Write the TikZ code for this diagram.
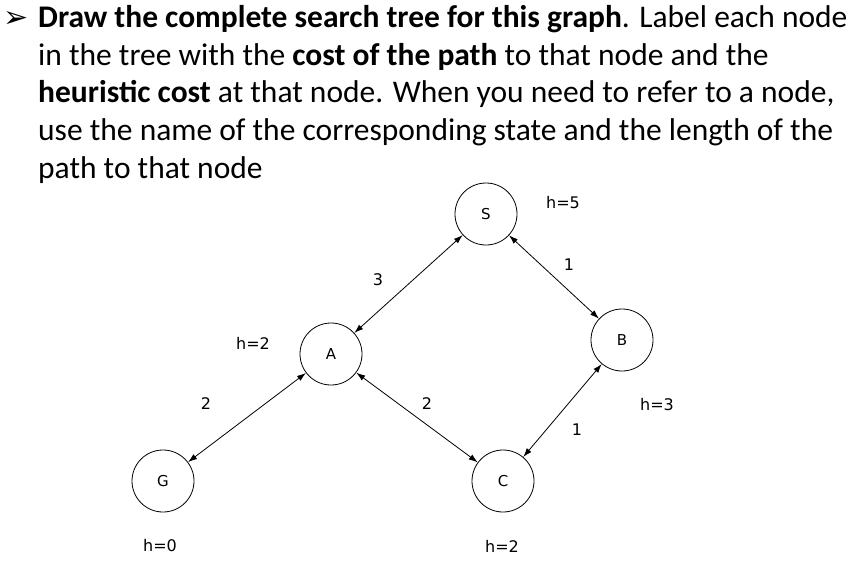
\documentclass[tikz,border=0pt]{standalone}
\usepackage{fontspec}
\setmainfont{Carlito}
\newfontfamily\djv{DejaVu Sans}
\usetikzlibrary{arrows.meta}
\begin{document}
\begin{tikzpicture}[x=1pt,y=-1pt,
  st/.style={circle,draw,line width=0.8pt,minimum size=62pt,inner sep=0pt,font=\djv\fontsize{15}{15}\selectfont},
  lbl/.style={font=\djv\fontsize{16}{16}\selectfont,inner sep=0pt},
  txt/.style={anchor=base west,inner sep=0pt,font=\fontsize{31.5}{31.5}\selectfont},
  ed/.style={{Latex[length=9pt,width=6pt]}-{Latex[length=9pt,width=6pt]},line width=0.8pt}]
\useasboundingbox (0,0) rectangle (861,586);
\node[anchor=base west,inner sep=0pt,font=\djv\bfseries\fontsize{30}{30}\selectfont] (bul) at (3,28) {➢};
\node[txt] (l1) at (38,28) {\textbf{Draw the complete search tree for this graph}. Label each node};
\node[txt] (l2) at (38,65) {in the tree with the \textbf{cost of the path} to that node and the};
\node[txt] (l3) at (38,102) {\textbf{heuristic cost} at that node. When you need to refer to a node,};
\node[txt] (l4) at (38,140) {use the name of the corresponding state and the length of the};
\node[txt] (l5) at (38,178) {path to that node};
\node[st] (S) at (486,214) {S};
\node[st] (A) at (331,354) {A};
\node[st] (B) at (622,340) {B};
\node[st] (G) at (163,481) {G};
\node[st] (C) at (503,481) {C};
\draw[ed] (S) -- (A);
\draw[ed] (S) -- (B);
\draw[ed] (A) -- (G);
\draw[ed] (A) -- (C);
\draw[ed] (B) -- (C);
\node[lbl] (h1) at (563,203) {h=5};
\node[lbl] (h2) at (253,343) {h=2};
\node[lbl] (h3) at (657,405) {h=3};
\node[lbl] (h4) at (160,546) {h=0};
\node[lbl] (h5) at (502,546) {h=2};
\node[lbl] (e1) at (378,280) {3};
\node[lbl] (e2) at (569,265) {1};
\node[lbl] (e3) at (206,404) {2};
\node[lbl] (e4) at (427,404) {2};
\node[lbl] (e5) at (577,430) {1};
\end{tikzpicture}
\end{document}
